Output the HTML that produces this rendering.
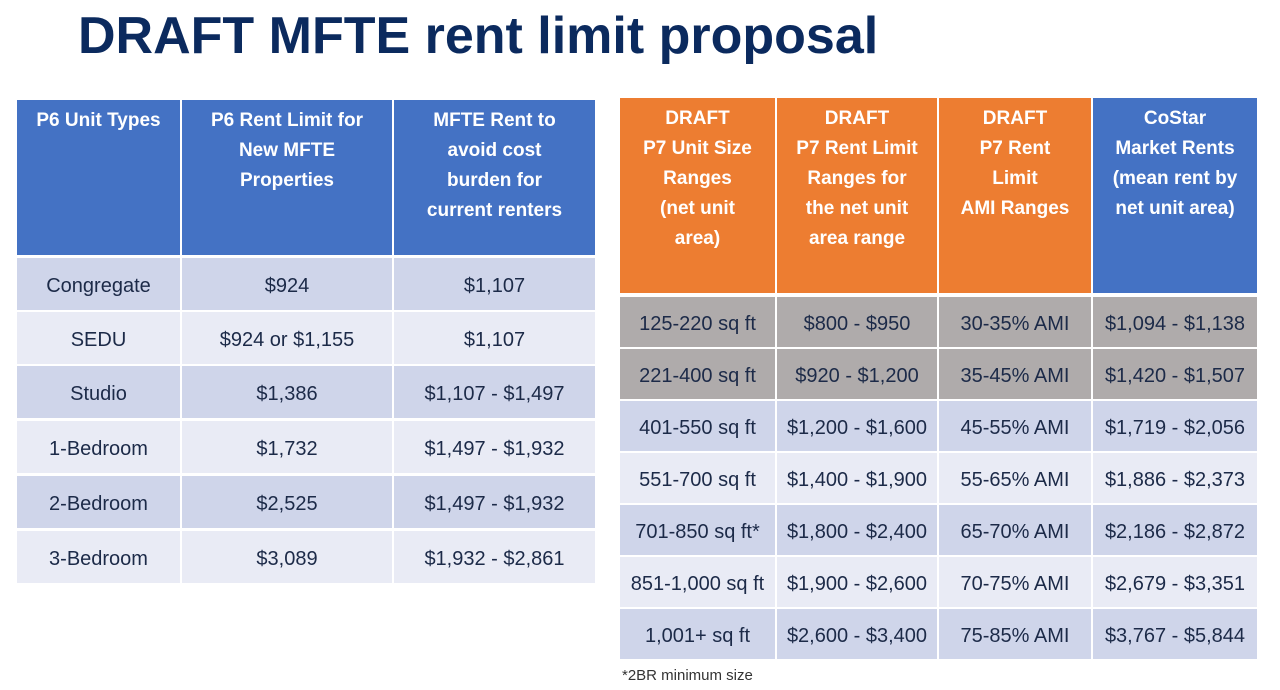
<!DOCTYPE html>
<html><head><meta charset="utf-8"><style>
body{margin:0;width:1280px;height:690px;background:#fff;position:relative;overflow:hidden;font-family:"Liberation Sans",sans-serif}
.t{position:absolute;left:78px;top:6px;font-size:52px;font-weight:bold;color:#0b2a5e;letter-spacing:0px;white-space:nowrap}
.c{position:absolute;display:flex;align-items:center;justify-content:center;text-align:center;font-size:20px;color:#1c2a48;box-sizing:border-box;padding-top:5px}
.h{color:#fff;font-weight:bold;align-items:flex-start;padding-top:6px;line-height:30px;font-size:19px}
.b{background:#4472c4}.o{background:#ed7d31}.g{background:#afabab}.l1{background:#cfd5ea}.l2{background:#e9ebf5}
.n{position:absolute;left:622px;top:667px;font-size:15px;color:#333}
</style></head><body>
<div class="t">DRAFT MFTE rent limit proposal</div>
<div class="n">*2BR minimum size</div>
<script>
function cell(x1,x2,y1,y2,cls,txt){var d=document.createElement('div');d.className='c '+cls;d.style.left=x1+'px';d.style.width=(x2-x1)+'px';d.style.top=y1+'px';d.style.height=(y2-y1)+'px';d.innerHTML=txt;document.body.appendChild(d);}
var lc=[[17,180],[182,392],[394,595]];
var lh=['P6 Unit Types','P6 Rent Limit for<br>New MFTE<br>Properties','MFTE Rent to<br>avoid cost<br>burden for<br>current renters'];
lc.forEach(function(c,i){cell(c[0],c[1],100,255,'h b',lh[i]);});
var lr=[[258,310],[312,364],[366,418],[421,473],[476,528],[531,583]];
var ld=[['Congregate','$924','$1,107'],['SEDU','$924 or $1,155','$1,107'],['Studio','$1,386','$1,107 - $1,497'],['1-Bedroom','$1,732','$1,497 - $1,932'],['2-Bedroom','$2,525','$1,497 - $1,932'],['3-Bedroom','$3,089','$1,932 - $2,861']];
lr.forEach(function(r,j){lc.forEach(function(c,i){cell(c[0],c[1],r[0],r[1],j%2?'l2':'l1',ld[j][i]);});});
var rc=[[620,775],[777,937],[939,1091],[1093,1257]];
var rh=['DRAFT<br>P7 Unit Size<br>Ranges<br>(net unit<br>area)','DRAFT<br>P7 Rent Limit<br>Ranges for<br>the net unit<br>area range','DRAFT<br>P7 Rent<br>Limit<br>AMI Ranges','CoStar<br>Market Rents<br>(mean rent by<br>net unit area)'];
rc.forEach(function(c,i){cell(c[0],c[1],98,293,'h '+(i<3?'o':'b'),rh[i]);});
var rr=[[297,347],[349,399],[401,451],[453,503],[505,555],[557,607],[609,659]];
var rd=[['125-220 sq ft','$800 - $950','30-35% AMI','$1,094 - $1,138'],['221-400 sq ft','$920 - $1,200','35-45% AMI','$1,420 - $1,507'],['401-550 sq ft','$1,200 - $1,600','45-55% AMI','$1,719 - $2,056'],['551-700 sq ft','$1,400 - $1,900','55-65% AMI','$1,886 - $2,373'],['701-850 sq ft*','$1,800 - $2,400','65-70% AMI','$2,186 - $2,872'],['851-1,000 sq ft','$1,900 - $2,600','70-75% AMI','$2,679 - $3,351'],['1,001+ sq ft','$2,600 - $3,400','75-85% AMI','$3,767 - $5,844']];
rr.forEach(function(r,j){var cl=j<2?'g':(j%2?'l2':'l1');rc.forEach(function(c,i){cell(c[0],c[1],r[0],r[1],cl,rd[j][i]);});});
</script>
</body></html>
